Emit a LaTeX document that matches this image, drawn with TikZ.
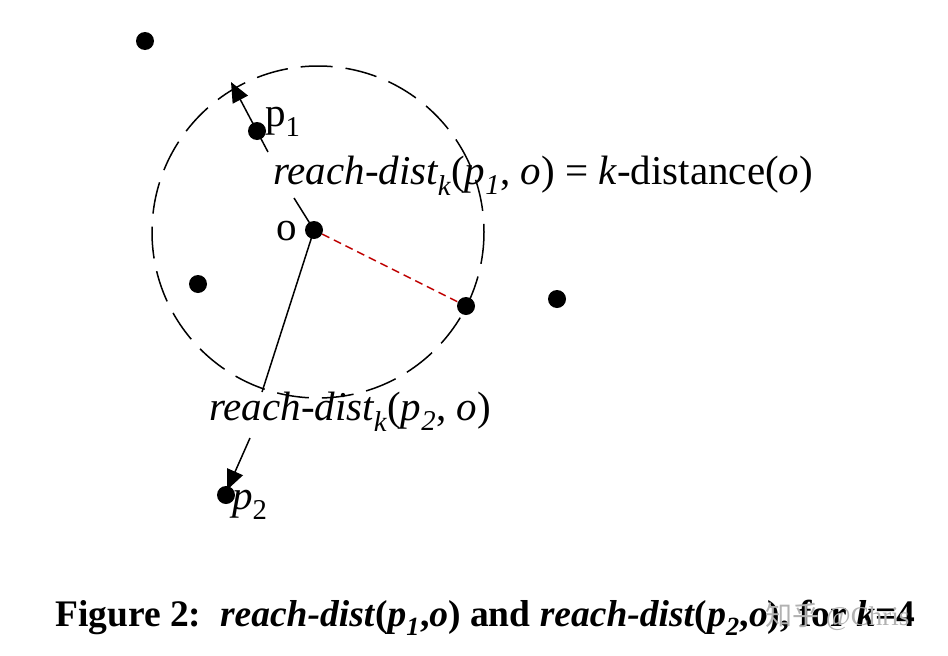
\documentclass[tikz,border=0pt]{standalone}
\usepackage{fontspec}
\setmainfont{Liberation Serif}
\newfontfamily\cjk{Noto Sans CJK SC}
\usetikzlibrary{arrows.meta}
\begin{document}
\begin{tikzpicture}[x=1pt,y=-1pt,
  pt/.style={circle,fill=black,inner sep=0pt,minimum size=18pt},
  lbl/.style={inner sep=0pt,font=\fontsize{41}{46}\selectfont},
  con/.style={line width=1.5pt},
  arr/.style={con,-{Triangle[length=20pt,width=17pt]}}]
\useasboundingbox (0,0) rectangle (948,656);
\fill[white] (0,0) rectangle (948,656);
\draw[dash pattern=on 32pt off 13pt,line width=1.5pt] (318,232) circle (166);
\node[pt] (a) at (145,41) {};
\node[pt] (p1) at (257,131) {};
\node[pt] (o) at (314,230) {};
\node[pt] (b) at (198,284) {};
\node[pt] (q) at (466,306) {};
\node[pt] (c) at (557,299) {};
\node[pt] (p2) at (226,495) {};
\coordinate (t1) at (231,82);
\coordinate (g1) at (268,152);
\coordinate (g2) at (294,198);
\coordinate (g3) at (262,392);
\coordinate (g4) at (250,438);
\coordinate (t2) at (227,490);
\draw[con] (o.center) -- (g2);
\draw[arr] (g1) -- (t1);
\draw[con] (o.center) -- (g3);
\draw[arr] (g4) -- (t2);
\draw[red!75!black,line width=1.5pt,dash pattern=on 8pt off 5pt] (o) -- (q);
\node[lbl,anchor=west] (l1) at (265,122) {p\textsubscript{1}};
\node[lbl,anchor=east] (lo) at (297,231) {o};
\node[lbl,anchor=west] (r1) at (273,176) {\textit{reach-dist\textsubscript{k}}(\textit{p\textsubscript{1}}, \textit{o}) = \textit{k}-distance(\textit{o})};
\node[lbl,anchor=west] (r2) at (209,412) {\textit{reach-dist\textsubscript{k}}(\textit{p\textsubscript{2}}, \textit{o})};
\node[lbl,anchor=west] (lp2) at (232,505) {\textit{p}\textsubscript{2}};
\node[inner sep=0pt,anchor=west,font=\fontsize{37.5}{42}\selectfont\bfseries] (cap) at (55,618) {Figure 2:\ \ \textit{reach-dist}(\textit{p\textsubscript{1}},\textit{o}) and \textit{reach-dist}(\textit{p\textsubscript{2}},\textit{o}), for \textit{k}=4};
\node[inner sep=0pt,anchor=west,text=gray!60,font=\fontsize{27}{30}\selectfont] (wm) at (765,617) {{\cjk 知乎} @Chris};
\end{tikzpicture}
\end{document}
